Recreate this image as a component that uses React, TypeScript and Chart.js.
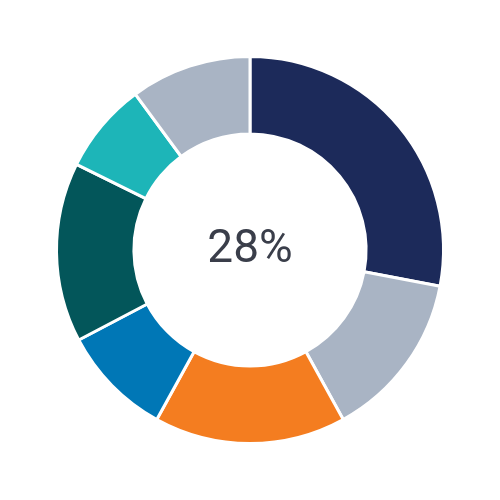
import { useEffect, useRef } from "react";
import { Chart, registerables } from "chart.js";
import type { ChartConfiguration, Plugin } from "chart.js";

Chart.register(...registerables);

const LABELS = ["Segment 1", "Segment 2", "Segment 3", "Segment 4", "Segment 5", "Segment 6", "Segment 7"];
const VALUES = [28, 14, 16, 9.3, 15, 7.6, 10.1];
const COLORS = ["#1c2a5a", "#a9b4c4", "#f47d20", "#0077b6", "#03565a", "#1db5b8", "#a9b4c4"];
const CENTER_TEXT = "28%";

const centerText: Plugin<"doughnut"> = {
  id: "centerText",
  afterDraw: (chart) => {
    const { ctx, chartArea } = chart;
    const x = (chartArea.left + chartArea.right) / 2;
    const y = (chartArea.top + chartArea.bottom) / 2;
    ctx.save();
    ctx.font = "46px Roboto, sans-serif";
    ctx.fillStyle = "#3a3e4a";
    ctx.textAlign = "center";
    ctx.textBaseline = "alphabetic";
    ctx.fillText(CENTER_TEXT, x, y + 12);
    ctx.restore();
  },
};

export default function App() {
  const canvasRef = useRef<HTMLCanvasElement | null>(null);
  const chartRef = useRef<Chart<"doughnut", number[], string> | null>(null);

  useEffect(() => {
    if (!canvasRef.current) return;
    chartRef.current?.destroy();

    const config: ChartConfiguration<"doughnut", number[], string> = {
      type: "doughnut",
      data: {
        labels: LABELS,
        datasets: [
          {
            data: VALUES,
            backgroundColor: COLORS,
            borderColor: "#fff",
            borderWidth: 3,
          },
        ],
      },
      options: {
        responsive: true,
        maintainAspectRatio: false,
        animation: false,
        cutout: "60%",
        layout: { padding: 55 },
        plugins: {
          legend: { display: false },
          tooltip: { enabled: false },
        },
      },
      plugins: [centerText],
    };

    chartRef.current = new Chart(canvasRef.current, config);
    return () => chartRef.current?.destroy();
  }, []);

  return (
    <div style={{ position: "fixed", left: 0, top: 0, width: 500, height: 500, background: "#fff" }}>
      <canvas ref={canvasRef} />
    </div>
  );
}
